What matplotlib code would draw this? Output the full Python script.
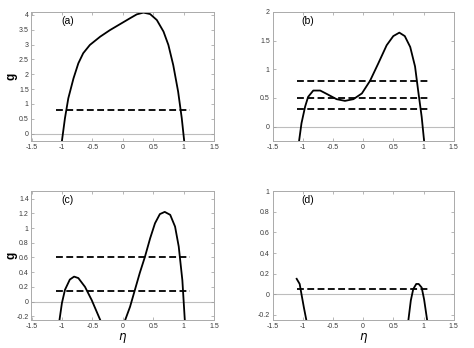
import matplotlib.pyplot as plt
from matplotlib.ticker import FuncFormatter

plt.rcParams['font.family'] = ['Liberation Sans', 'DejaVu Sans']

# curve samples (eta, g)
a_eta = [-1.00, -0.95, -0.895, -0.81, -0.73, -0.65, -0.54, -0.37, -0.21, -0.045, 0.12,
         0.23, 0.34, 0.45, 0.56, 0.67, 0.75, 0.83, 0.91, 0.97, 1.01]
a_g = [-0.25, 0.52, 1.19, 1.86, 2.37, 2.71, 2.99, 3.27, 3.49, 3.69, 3.89,
       4.02, 4.08, 4.03, 3.83, 3.44, 2.99, 2.31, 1.42, 0.52, -0.25]

b_eta = [-1.06, -1.02, -0.96, -0.91, -0.825, -0.71, -0.60, -0.44, -0.30, -0.16, -0.02,
         0.115, 0.25, 0.39, 0.50, 0.60, 0.69, 0.78, 0.86, 0.91, 0.97, 1.01]
b_g = [-0.25, 0.06, 0.35, 0.52, 0.63, 0.63, 0.57, 0.48, 0.45, 0.48, 0.58,
       0.80, 1.10, 1.42, 1.58, 1.64, 1.58, 1.39, 1.05, 0.64, 0.17, -0.25]

c1_eta = [-1.04, -1.00, -0.95, -0.87, -0.80, -0.73, -0.62, -0.51, -0.37]
c1_g = [-0.25, -0.02, 0.16, 0.30, 0.34, 0.32, 0.20, 0.02, -0.25]
c2_eta = [0.04, 0.12, 0.20, 0.28, 0.365, 0.45, 0.53, 0.61, 0.69, 0.78, 0.86, 0.92, 0.98, 1.02]
c2_g = [-0.25, -0.07, 0.16, 0.39, 0.61, 0.86, 1.065, 1.19, 1.22, 1.18, 1.02, 0.75, 0.29, -0.25]

d1_eta = [-1.10, -1.05, -1.02, -0.98, -0.94]
d1_g = [0.15, 0.10, 0.0, -0.13, -0.25]
d2_eta = [0.75, 0.79, 0.83, 0.88, 0.92, 0.97, 1.01, 1.06]
d2_g = [-0.25, -0.06, 0.05, 0.10, 0.10, 0.065, -0.05, -0.25]

# dashed levels
a_levels = [0.8]
b_levels = [0.8, 0.5, 0.3]
c_levels = [0.6, 0.15]
d_levels = [0.05]

panels = [
    ("(a)", [(a_eta, a_g)], a_levels, (-0.25, 4.1), [0, 0.5, 1, 1.5, 2, 2.5, 3, 3.5, 4]),
    ("(b)", [(b_eta, b_g)], b_levels, (-0.25, 2.0), [0, 0.5, 1, 1.5, 2]),
    ("(c)", [(c1_eta, c1_g), (c2_eta, c2_g)], c_levels, (-0.25, 1.5),
     [-0.2, 0, 0.2, 0.4, 0.6, 0.8, 1, 1.2, 1.4]),
    ("(d)", [(d1_eta, d1_g), (d2_eta, d2_g)], d_levels, (-0.25, 1.0),
     [-0.2, 0, 0.2, 0.4, 0.6, 0.8, 1]),
]
xticks = [-1.5, -1, -0.5, 0, 0.5, 1, 1.5]

W, H = 474, 348
boxes = [(31.5, 12, 214, 141), (272.5, 12, 453.7, 141),
         (31.5, 191.3, 214, 320), (272.5, 191.3, 453.7, 320)]


def fmt(v, pos):
    s = ("%.2f" % v).rstrip("0").rstrip(".")
    return "0" if s in ("-0", "") else s


fig = plt.figure(figsize=(W / 100, H / 100), dpi=100)
for i, (lab, curves, levels, ylim, yticks) in enumerate(panels):
    x0, y0, x1, y1 = boxes[i]
    ax = fig.add_axes([x0 / W, 1 - y1 / H, (x1 - x0) / W, (y1 - y0) / H])
    ax.axhline(0, color="#bdbdbd", lw=0.8, zorder=1)
    for lv in levels:
        ax.plot([-1.1, 1.1], [lv, lv], color="black", lw=1.3, ls=(0, (3.8, 1.9)))
    for xs, ys in curves:
        ax.plot(xs, ys, color="black", lw=1.3)
    ax.set_xlim(-1.5, 1.5)
    ax.set_ylim(*ylim)
    ax.set_xticks(xticks)
    ax.set_yticks(yticks)
    ax.xaxis.set_major_formatter(FuncFormatter(fmt))
    ax.yaxis.set_major_formatter(FuncFormatter(fmt))
    ax.tick_params(direction="in", length=2, width=0.5, labelsize=5,
                   colors="#9a9a9a", labelcolor="#3a3a3a", top=True, right=True, pad=2)
    for sp in ax.spines.values():
        sp.set_color("#aaaaaa")
        sp.set_linewidth(0.7)
    ax.text(0.197, 0.93, lab, transform=ax.transAxes, ha="center", va="center", fontsize=7.5)
    if i % 2 == 0:
        ax.set_ylabel("g", fontsize=8.5, fontweight="bold")
        ax.yaxis.set_label_coords(-0.078, 0.5)
    if i >= 2:
        ax.set_xlabel(r"$\eta$", fontsize=8.5)
        ax.xaxis.set_label_coords(0.5, -0.085)

fig.savefig("out.png", dpi=100)
